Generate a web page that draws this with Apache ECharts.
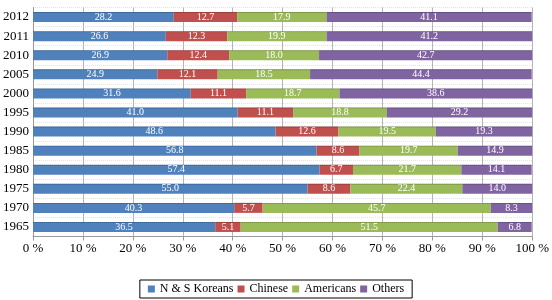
<!DOCTYPE html>
<html>
<head>
<meta charset="utf-8">
<script src="https://cdn.jsdelivr.net/npm/echarts@6/dist/echarts.min.js"></script>
<style>
  html, body { margin: 0; padding: 0; background: #fff; }
  #chart { width: 552px; height: 300px; }
</style>
</head>
<body>
<div id="chart"></div>
<script>
// years, top to bottom as in the picture
var years = ['2012', '2011', '2010', '2005', '2000', '1995', '1990', '1985', '1980', '1975', '1970', '1965'];
var koreans   = [28.2, 26.6, 26.9, 24.9, 31.6, 41.0, 48.6, 56.8, 57.4, 55.0, 40.3, 36.5];
var chinese   = [12.7, 12.3, 12.4, 12.1, 11.1, 11.1, 12.6, 8.6, 6.7, 8.6, 5.7, 5.1];
var americans = [17.9, 19.9, 18.0, 18.5, 18.7, 18.8, 19.5, 19.7, 21.7, 22.4, 45.7, 51.5];
var others    = [41.1, 41.2, 42.7, 44.4, 38.6, 29.2, 19.3, 14.9, 14.1, 14.0, 8.3, 6.8];
var seriesNames = ['N & S Koreans', 'Chinese', 'Americans', 'Others'];
var colors = ['#4F81BD', '#C0504D', '#9BBB59', '#8064A2'];
var edges  = ['#385D8A', '#8C3836', '#71893F', '#5C4776'];

var serif = '"Liberation Serif", "DejaVu Serif", serif';

function makeSeries(name, data, idx) {
	return {
		name: name,
		type: 'bar',
		stack: 'total',
		barWidth: 10,
		data: data,
		itemStyle: {
			color: {
				type: 'linear', x: 0, y: 0, x2: 0, y2: 1,
				colorStops: [
					{ offset: 0, color: edges[idx] },
					{ offset: 0.15, color: colors[idx] },
					{ offset: 1, color: colors[idx] }
				]
			}
		},
		label: {
			show: true,
			position: 'inside',
			color: '#fff',
			fontFamily: serif,
			fontSize: 10,
			formatter: function(p) { return p.value.toFixed(1); }
		}
	};
}

var myChart = echarts.init(document.getElementById('chart'));
var option = {
	animation: false,
	color: colors,
	grid: {
		left: 33,
		right: 11,
		top: 7.5,
		bottom: 63.5
	},
	legend: {
		bottom: 2,
		left: 'center',
		itemWidth: 7,
		itemHeight: 7,
		itemGap: 4,
		icon: 'rect',
		borderColor: '#000',
		borderWidth: 1,
		borderRadius: 0,
		padding: [3, 8],
		textStyle: { fontFamily: serif, fontSize: 12, color: '#000' },
		data: seriesNames.map(function(n, i) { return { name: n, itemStyle: { color: colors[i] } }; })
	},
	xAxis: {
		type: 'value',
		min: 0,
		max: 100,
		interval: 10,
		axisLine: { show: true, lineStyle: { color: '#999' } },
		axisTick: { show: true, length: 4, lineStyle: { color: '#999' } },
		splitLine: { show: true, lineStyle: { color: '#b5b5b5' } },
		axisLabel: {
			formatter: '{value} %',
			fontFamily: serif,
			fontSize: 13,
			color: '#000',
			margin: 6
		}
	},
	yAxis: {
		type: 'category',
		data: years,
		inverse: true,
		axisLine: { show: true, lineStyle: { color: '#999' } },
		axisTick: { show: false },
		splitLine: { show: true, lineStyle: { color: '#e4e4e4', type: 'dotted' } },
		axisLabel: {
			fontFamily: serif,
			fontSize: 13,
			color: '#000',
			margin: 4
		}
	},
	series: [
		makeSeries(seriesNames[0], koreans, 0),
		makeSeries(seriesNames[1], chinese, 1),
		makeSeries(seriesNames[2], americans, 2),
		makeSeries(seriesNames[3], others, 3)
	]
};
myChart.setOption(option);
</script>
</body>
</html>
